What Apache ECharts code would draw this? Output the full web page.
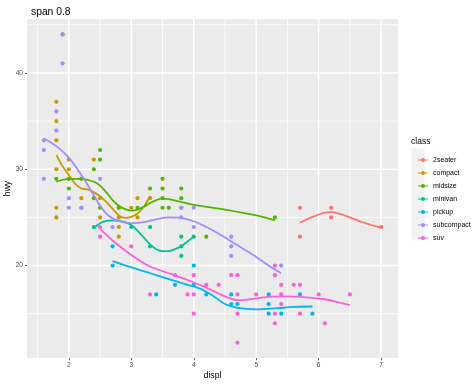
<!DOCTYPE html>
<html>
<head>
<meta charset="utf-8">
<script src="https://cdn.jsdelivr.net/npm/echarts@6/dist/echarts.min.js"></script>
<style>html,body{margin:0;padding:0;background:#fff}#c{width:474px;height:384px}</style>
</head>
<body>
<div id="c"></div>
<script>
const classes = ['2seater','compact','midsize','minivan','pickup','subcompact','suv'];
const colors = ['#F8766D','#C49A00','#53B400','#00C094','#00B6EB','#A58AFF','#FB61D7'];
const xTicks = [2,3,4,5,6,7];
const xMinor = [1.5,2.5,3.5,4.5,5.5,6.5];
const yTicks = [20,30,40];
const yMinor = [15,25,35,45];
const xRange = [1.33, 7.27];
const yRange = [10.4, 45.6];

// points (displ, hwy) per class
const pts2seater = [[5.7,26],[5.7,23],[6.2,26],[6.2,25],[7.0,24]];
const ptsCompact = [[1.8,26],[1.8,25],[1.8,30],[1.8,33],[1.8,35],[1.8,37],[1.9,44],[2.0,31],[2.0,30],[2.0,29],[2.2,26],[2.2,27],[2.4,31],[2.5,25],[2.5,27],[2.8,26],[2.8,25],[2.8,24],[2.8,23],[3.0,26],[3.1,27],[3.1,25],[3.3,27]];
const ptsMidsize = [[1.8,29],[2.0,28],[2.0,29],[2.2,29],[2.4,27],[2.4,30],[2.5,26],[2.5,31],[2.5,32],[2.8,26],[3.1,26],[3.3,28],[3.5,29],[3.5,28],[3.5,27],[3.5,26],[3.6,26],[3.8,28],[3.8,27],[3.8,26],[4.2,23],[5.3,25]];
const ptsMinivan = [[2.4,24],[3.0,24],[3.3,24],[3.3,22],[3.8,23],[3.8,22],[3.8,21],[4.0,23]];
const ptsPickup = [[2.7,20],[2.7,22],[3.4,17],[3.7,18],[4.0,18],[4.0,20],[4.2,17],[4.6,16],[4.6,17],[4.7,16],[5.2,17],[5.2,16],[5.2,15],[5.4,15],[5.7,17],[5.9,15]];
const ptsSubcompact = [[1.6,33],[1.6,32],[1.6,29],[1.8,34],[1.8,36],[1.9,44],[1.9,41],[2.0,27],[2.0,26],[2.2,26],[2.5,29],[2.7,24],[3.8,26],[3.8,25],[4.0,26],[4.0,24],[4.6,21],[4.6,22],[4.6,23],[5.4,20]];
const ptsSuv = [[2.5,24],[2.5,23],[3.0,22],[3.3,17],[3.7,19],[3.9,17],[4.0,19],[4.0,17],[4.0,15],[4.2,18],[4.4,18],[4.6,19],[4.7,19],[4.7,17],[4.7,15],[4.7,12],[5.0,17],[5.3,20],[5.3,19],[5.3,15],[5.3,14],[5.4,18],[5.4,17],[5.4,16],[5.6,18],[5.7,18],[5.7,15],[6.0,17],[6.1,14],[6.5,17]];

// loess curves
const fit2seater = [[5.7,24.45],[5.8,24.75],[5.9,25.05],[6.0,25.3],[6.1,25.5],[6.2,25.55],[6.3,25.45],[6.4,25.25],[6.5,25.0],[6.6,24.75],[6.7,24.5],[6.8,24.3],[6.9,24.1],[7.0,23.95]];
const fitCompact = [[1.8,31.5],[1.9,30.3],[2.0,29.4],[2.1,28.5],[2.2,28.0],[2.3,27.9],[2.4,27.6],[2.5,27.2],[2.6,26.6],[2.7,25.9],[2.8,25.2],[2.9,24.95],[3.0,25.05],[3.1,25.4],[3.2,26.1],[3.3,27.2]];
const fitMidsize = [[1.8,28.7],[2.0,29.0],[2.2,29.0],[2.4,28.7],[2.5,28.3],[2.6,27.6],[2.7,26.8],[2.8,26.2],[2.9,25.85],[3.0,25.7],[3.1,25.8],[3.2,26.1],[3.3,26.5],[3.4,26.8],[3.5,26.95],[3.6,26.9],[3.8,26.6],[4.0,26.3],[4.5,25.8],[5.0,25.2],[5.3,24.7]];
const fitMinivan = [[2.4,23.9],[2.5,24.4],[2.6,24.65],[2.7,24.7],[2.8,24.65],[2.9,24.5],[3.0,24.2],[3.1,23.6],[3.2,22.9],[3.3,22.2],[3.4,21.7],[3.5,21.5],[3.6,21.5],[3.7,21.7],[3.8,22.0],[3.9,22.5],[4.0,23.0]];
const fitPickup = [[2.7,20.45],[3.0,19.8],[3.3,19.2],[3.6,18.6],[3.9,18.0],[4.1,17.6],[4.3,16.9],[4.5,16.0],[4.7,15.6],[5.0,15.45],[5.3,15.55],[5.6,15.7],[5.9,15.75]];
const fitSubcompact = [[1.6,33.2],[1.8,32.4],[2.0,31.2],[2.2,29.4],[2.4,27.3],[2.5,26.2],[2.6,25.4],[2.7,24.9],[2.8,24.6],[3.0,24.4],[3.2,24.5],[3.4,24.8],[3.6,25.0],[3.8,24.95],[4.0,24.6],[4.2,24.0],[4.4,23.3],[4.6,22.5],[4.8,21.7],[5.0,20.9],[5.2,20.0],[5.4,19.2]];
const fitSuv = [[2.5,23.8],[2.7,22.6],[3.0,21.1],[3.3,19.9],[3.6,19.2],[3.9,18.5],[4.2,17.7],[4.5,16.8],[4.7,16.4],[4.9,16.5],[5.2,16.75],[5.5,16.8],[5.8,16.7],[6.1,16.5],[6.3,16.2],[6.5,15.9]];

const points = [pts2seater, ptsCompact, ptsMidsize, ptsMinivan, ptsPickup, ptsSubcompact, ptsSuv];
const fits = [fit2seater, fitCompact, fitMidsize, fitMinivan, fitPickup, fitSubcompact, fitSuv];

const FONT = 'Liberation Sans';
const series = [];
// panel background + grid lines, drawn first
series.push({
  type: 'line', data: [[xRange[0], yRange[1]], [xRange[1], yRange[1]]], symbol: 'none', showSymbol: false,
  silent: true, z: 1, lineStyle: {width: 0, opacity: 0},
  areaStyle: {color: '#EBEBEB', opacity: 1, origin: 'start'}, emphasis: {disabled: true}, animation: false
});
const gridRules = [];
xMinor.forEach(v => gridRules.push({data: [[v, yRange[0]], [v, yRange[1]]], w: 0.8}));
yMinor.forEach(v => gridRules.push({data: [[xRange[0], v], [xRange[1], v]], w: 0.8}));
xTicks.forEach(v => gridRules.push({data: [[v, yRange[0]], [v, yRange[1]]], w: 1.5}));
yTicks.forEach(v => gridRules.push({data: [[xRange[0], v], [xRange[1], v]], w: 1.5}));
gridRules.forEach(g => {
  series.push({
    type: 'line', data: g.data, symbol: 'none', showSymbol: false, silent: true, z: 2, clip: false,
    lineStyle: {color: '#FFFFFF', width: g.w, opacity: 1, type: 'solid'}, emphasis: {disabled: true},
    animation: false
  });
});
classes.forEach((c, i) => {
  series.push({
    type: 'scatter', name: c, data: points[i], symbolSize: 4.2, z: 2,
    itemStyle: {color: colors[i], opacity: 1}, emphasis: {disabled: true}, animation: false
  });
});
classes.forEach((c, i) => {
  series.push({
    type: 'line', name: c, data: fits[i], smooth: 0.3, showSymbol: false, symbol: 'none', z: 3,
    lineStyle: {color: colors[i], width: 1.8}, itemStyle: {color: colors[i]},
    emphasis: {disabled: true}, animation: false
  });
});

const icon = 'path://M0,1.5L10,1.5L10,2.5L0,2.5Z M3,2A2,2,0,1,1,7,2A2,2,0,1,1,3,2Z';
const chart = echarts.init(document.getElementById('c'), null, {renderer: 'canvas'});
chart.setOption({
  animation: false,
  backgroundColor: '#ffffff',
  textStyle: {fontFamily: FONT},
  title: {text: 'span 0.8', left: 26, top: 2, textStyle: {fontFamily: FONT, fontSize: 10.3, fontWeight: 'normal', color: '#000'}},
  grid: {left: 27, right: 76, top: 19, bottom: 26, show: false, containLabel: false, outerBoundsMode: 'none'},
  xAxis: {
    type: 'value', min: xRange[0], max: xRange[1],
    name: 'displ', nameLocation: 'middle', nameGap: 13, nameMoveOverlap: false,
    nameTextStyle: {fontFamily: FONT, fontSize: 8.6, color: '#000', verticalAlign: 'top'},
    axisLine: {show: false},
    axisTick: {show: true, length: 2.2, customValues: xTicks, lineStyle: {color: '#333', width: 0.8}},
    axisLabel: {customValues: xTicks, margin: 4, fontFamily: FONT, fontSize: 6.6, color: '#4D4D4D'},
    splitLine: {show: false}, minorSplitLine: {show: false}
  },
  yAxis: {
    type: 'value', min: yRange[0], max: yRange[1],
    name: 'hwy', nameLocation: 'middle', nameGap: 15, nameRotate: 90, nameMoveOverlap: false,
    nameTextStyle: {fontFamily: FONT, fontSize: 8.6, color: '#000'},
    axisLine: {show: false},
    axisTick: {show: true, length: 2.2, customValues: yTicks, lineStyle: {color: '#333', width: 0.8}},
    axisLabel: {customValues: yTicks, margin: 4, fontFamily: FONT, fontSize: 6.6, color: '#4D4D4D'},
    splitLine: {show: false}
  },
  legend: {
    orient: 'vertical', left: 413, top: 148.5, itemWidth: 10, itemHeight: 4, itemGap: 0,
    selectedMode: false,
    textStyle: {fontFamily: FONT, fontSize: 7, color: '#000', lineHeight: 13, height: 13, padding: 0},
    data: classes.map((c, i) => ({name: c, icon: icon, itemStyle: {color: colors[i]}}))
  },
  graphic: [
    {type: 'rect', left: 411.5, top: 148.5, z: -1, shape: {width: 13, height: 91}, style: {fill: '#F2F2F2'}},
    {type: 'text', left: 411, top: 137, style: {text: 'class', font: '8.6px "Liberation Sans"', fill: '#000'}}
  ],
  series: series
});
</script>
</body>
</html>
